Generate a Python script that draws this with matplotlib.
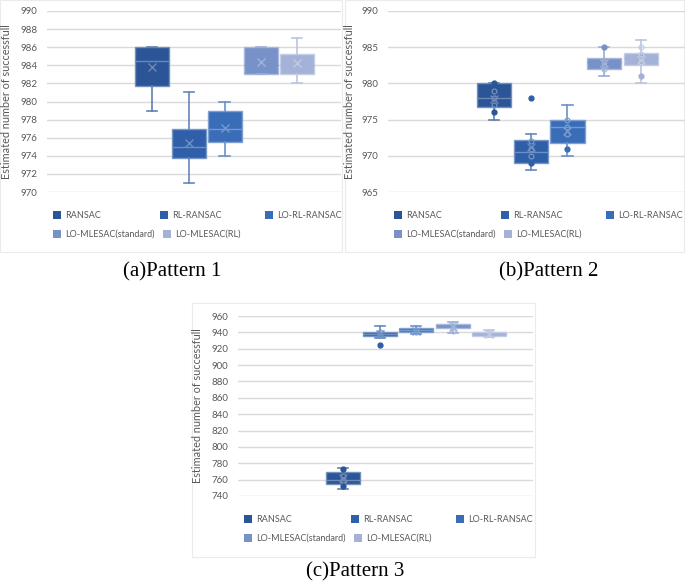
import matplotlib
matplotlib.use("Agg")
from matplotlib import pyplot as plt
from matplotlib.patches import Rectangle
from matplotlib.colors import to_rgb
import numpy as np

methods = ["RANSAC", "RL-RANSAC", "LO-RL-RANSAC", "LO-MLESAC(standard)", "LO-MLESAC(RL)"]
colors = ["#2B5597", "#2F5FA8", "#3A6DB8", "#7891C8", "#A3B2D6"]

# each row: whisker low, q1, median, q3, whisker high
p1_box = [[979, 981.75, 984.5, 986, 986],
          [971, 973.75, 975, 977, 981],
          [974, 975.5, 977, 979, 980],
          [983, 983, 984, 986, 986],
          [982, 983, 984, 985.3, 987]]
p1_mean = [983.8, 975.4, 977.1, 984.4, 984.3]

p2_box = [[975, 976.75, 978, 980, 980],
          [968, 969, 970.5, 972.25, 973],
          [970, 971.75, 974, 975, 977],
          [981, 982, 983, 983.5, 985],
          [980, 982.5, 983.5, 984.25, 986]]
p2_mean = [977.9, 971.2, 973.4, 982.8, 983.2]
p2_fliers = [[], [978], [], [], []]
p2_points = [[979, 978, 977], [972, 971, 970], [975, 974, 973], [983, 982], [985, 984, 983]]
p2_dots = [[980, 976], [969], [971], [985], [981]]

p3_box = [[749, 755, 760, 769, 774],
          [933.5, 935, 938.5, 940.5, 948],
          [938.5, 940.5, 943, 945, 948],
          [939, 945, 948, 950.5, 953],
          [934, 936, 938.5, 940.5, 943]]
p3_mean = [762, 938, 942, 947, 938]
p3_fliers = [[], [924], [], [], []]
p3_points = [[765, 760, 757], [940, 937], [943, 941], [950, 947, 942], [939]]
p3_dots = [[773, 752], [], [], [], []]

W, H = 685, 583
fig = plt.figure(figsize=(W / 100, H / 100), dpi=100)
plt.rcParams['font.family'] = ['Lato', 'DejaVu Sans']

gray = "#595959"
grid = "#D9D9D9"
pos = np.array([0.357, 0.482, 0.604, 0.728, 0.851])
bw = 0.116


def lighten(c, f):
    r, g, b = to_rgb(c)
    return (r + (1 - r) * f, g + (1 - g) * f, b + (1 - b) * f)


def px_axes(l, t, r, b):
    return fig.add_axes([l / W, 1 - b / H, (r - l) / W, (b - t) / H])


def draw_panel(rect, box, means, ylim, yticks, fliers=None, points=None, dots=None,
               frame=None, caption=None, cap_xy=None, ylab_x=None):
    if frame is not None:
        fx0, fy0, fx1, fy1 = frame
        fig.add_artist(Rectangle((fx0 / W, 1 - fy1 / H), (fx1 - fx0) / W, (fy1 - fy0) / H,
                                 transform=fig.transFigure, fill=False,
                                 edgecolor="#EBEBEB", linewidth=0.8, zorder=0))
    ax = px_axes(*rect)
    ax.patch.set_alpha(0)
    for i in range(len(methods)):
        lo, q1, med, q3, hi = box[i]
        st = dict(whislo=lo, q1=q1, med=med, q3=q3, whishi=hi, mean=means[i],
                  fliers=fliers[i] if fliers else [])
        c = colors[i]
        lc = lighten(c, 0.25)
        ax.bxp([st], positions=[pos[i]], widths=bw, showmeans=True, patch_artist=True,
               boxprops=dict(facecolor=c, edgecolor=lighten(c, 0.35), linewidth=1),
               whiskerprops=dict(color=lc, linewidth=1.2),
               capprops=dict(color=lc, linewidth=1.2),
               capwidths=bw * 0.3,
               medianprops=dict(color=c if i > 2 else lighten(c, 0.3), linewidth=1),
               meanprops=dict(marker="x", markeredgecolor=lighten(c, 0.3), markersize=6,
                              markeredgewidth=1),
               flierprops=dict(marker="o", markerfacecolor=c, markeredgecolor=c, markersize=3.5))
        if points:
            ax.plot([pos[i]] * len(points[i]), points[i], "o", markersize=3.5,
                    markerfacecolor="none", markeredgecolor=lighten(c, 0.35), markeredgewidth=0.9)
        if dots:
            ax.plot([pos[i]] * len(dots[i]), dots[i], "o", markersize=3.5,
                    color=c, markeredgecolor=c)
    ax.set_xlim(0, 1)
    ax.set_ylim(*ylim)
    ax.set_yticks(yticks)
    ax.set_xticks([])
    ax.yaxis.grid(True, color=grid, linewidth=1)
    ax.set_axisbelow(True)
    for s in ax.spines.values():
        s.set_visible(False)
    ax.tick_params(axis="y", length=0, pad=7, labelsize=7, labelcolor=gray)
    ax.set_ylabel("Estimated number of successfull", fontsize=7.8, color=gray)
    if ylab_x is not None:
        ax.yaxis.set_label_coords((ylab_x - rect[0]) / (rect[2] - rect[0]), 0.5)

    # legend, laid out like the spreadsheet one
    l, b = rect[0], rect[3]
    slots = [(6, 23), (113, 23), (218, 23), (6, 42), (116, 42)]
    for (dx, dy), name, c in zip(slots, methods, colors):
        x, y = l + dx, b + dy
        fig.add_artist(Rectangle((x / W, 1 - (y + 4) / H), 8 / W, 8 / H,
                                 transform=fig.transFigure, facecolor=c, edgecolor="none"))
        fig.text((x + 12) / W, 1 - y / H, name, fontsize=6.5, color=gray, va="center")
    if caption:
        fig.text(cap_xy[0] / W, 1 - cap_xy[1] / H, caption, fontsize=15,
                 family="Liberation Serif", ha="center", va="center")
    return ax


draw_panel((47, 11, 341, 192), p1_box, p1_mean, (970, 990), np.arange(970, 991, 2),
           frame=(0, 0, 342, 252), caption="(a)Pattern 1", cap_xy=(172, 272), ylab_x=12)
draw_panel((388, 11, 685, 192), p2_box, p2_mean, (965, 990), np.arange(965, 991, 5),
           fliers=p2_fliers, points=p2_points, dots=p2_dots,
           frame=(345, 0, 684, 252), caption="(b)Pattern 2", cap_xy=(549, 272), ylab_x=355)
draw_panel((238, 316, 533, 496), p3_box, p3_mean, (740, 960), np.arange(740, 961, 20),
           fliers=p3_fliers, points=p3_points, dots=p3_dots,
           frame=(192, 303, 535, 557), caption="(c)Pattern 3", cap_xy=(355, 572), ylab_x=203)

fig.savefig("out.png", dpi=100)
